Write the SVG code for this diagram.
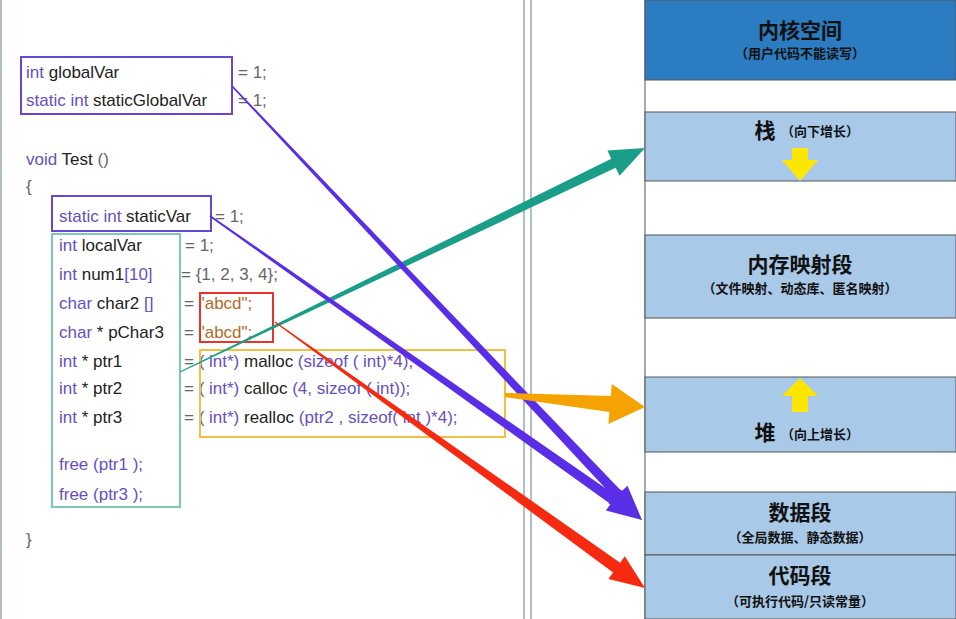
<svg xmlns="http://www.w3.org/2000/svg" width="956" height="619" viewBox="0 0 956 619">
<style>
.c{font-family:"Liberation Sans","Noto Sans CJK SC",sans-serif;font-size:17px;fill:#222}
.k{fill:#6650c0}.g{fill:#666}.s{fill:#b06a2a}
.bx{fill:none;stroke-width:2}
.band{fill:#a9c9e8;stroke:#555;stroke-width:1}
.wh{fill:#fff}
.t1{font-family:"Noto Sans CJK SC",sans-serif;font-weight:bold;font-size:21px;fill:#111;text-anchor:middle}
.t2{font-family:"Noto Sans CJK SC",sans-serif;font-weight:bold;font-size:13px;fill:#111;text-anchor:middle}
</style>
<rect width="956" height="619" fill="#fff"/>
<g id="panel-left">
<rect x="1" y="-2" width="523" height="622" fill="none" stroke="#9aa" stroke-width="1.5"/>
<line x1="531" y1="0" x2="531" y2="619" stroke="#9aa" stroke-width="1.5"/>
</g>
<g id="code" class="c">
<text x="26" y="78"><tspan class="k">int</tspan> globalVar<tspan x="238" class="g">= 1;</tspan></text>
<text x="26" y="106"><tspan class="k">static int</tspan> staticGlobalVar<tspan x="238" class="g">= 1;</tspan></text>
<text x="26" y="165"><tspan class="k">void</tspan> Test <tspan class="g">()</tspan></text>
<text x="26" y="192" class="g">{</text>
<text x="59" y="222"><tspan class="k">static int</tspan> staticVar<tspan x="215" class="g">= 1;</tspan></text>
<text x="59" y="251"><tspan class="k">int</tspan> localVar<tspan x="185" class="g">= 1;</tspan></text>
<text x="59" y="280"><tspan class="k">int</tspan> num1<tspan class="k">[10]</tspan><tspan x="181" class="g">= {1, 2, 3, 4};</tspan></text>
<text x="59" y="309"><tspan class="k">char</tspan> char2 <tspan class="k">[]</tspan><tspan x="184" class="g">= </tspan><tspan class="s">"abcd";</tspan></text>
<text x="59" y="338"><tspan class="k">char</tspan> * pChar3 <tspan x="184" class="g">= </tspan><tspan class="s">"abcd";</tspan></text>
<text x="59" y="367"><tspan class="k">int</tspan> * ptr1<tspan x="184" class="g">= </tspan><tspan class="k">( int*)</tspan> malloc <tspan class="k">(sizeof ( int)*4);</tspan></text>
<text x="59" y="394"><tspan class="k">int</tspan> * ptr2<tspan x="184" class="g">= </tspan><tspan class="k">( int*)</tspan> calloc <tspan class="k">(4, sizeof ( int));</tspan></text>
<text x="59" y="423"><tspan class="k">int</tspan> * ptr3<tspan x="184" class="g">= </tspan><tspan class="k">( int*)</tspan> realloc <tspan class="k">(ptr2 , sizeof( int )*4);</tspan></text>
<text x="59" y="470" class="k">free (ptr1 );</text>
<text x="59" y="500" class="k">free (ptr3 );</text>
<text x="26" y="545" class="g">}</text>
</g>
<g id="boxes">
<rect class="bx" x="21" y="57" width="211" height="57" stroke="#6a45d8"/>
<rect class="bx" x="52" y="196" width="159" height="35" stroke="#6a45d8"/>
<rect class="bx" x="52" y="234" width="128" height="273" stroke="#7cc9b4"/>
<rect class="bx" x="200" y="293" width="73" height="49" stroke="#e8322a"/>
<rect class="bx" x="200" y="350" width="305" height="87" stroke="#f2c040"/>
</g>
<g id="memory">
<rect x="645" y="-1" width="312" height="621" fill="#fff" stroke="#555"/>
<g id="kernel"><rect x="645" y="0" width="311" height="80" fill="#2b7cc0" stroke="#555"/>
<text class="t1" x="800" y="38">内核空间</text><text class="t2" x="800" y="58">（用户代码不能读写）</text></g>
<g id="stack"><rect class="band" x="645" y="112" width="311" height="69"/>
<text class="t1" x="765" y="138">栈</text><text class="t2" x="820" y="136">（向下增长）</text>
<polygon points="792,148 808,148 808,160 818,160 800,181 782,160 792,160" fill="#ffe600"/></g>
<g id="mmap"><rect class="band" x="645" y="235" width="311" height="83"/>
<text class="t1" x="800" y="272">内存映射段</text><text class="t2" x="800" y="293">（文件映射、动态库、匿名映射）</text></g>
<g id="heap"><rect class="band" x="645" y="377" width="311" height="75"/>
<polygon points="800,378 818,396 808,396 808,412 792,412 792,396 782,396" fill="#ffe600"/>
<text class="t1" x="765" y="440">堆</text><text class="t2" x="820" y="439">（向上增长）</text></g>
<g id="data"><rect class="band" x="645" y="492" width="311" height="63" fill="#c3dbef"/>
<text class="t1" x="800" y="520">数据段</text><text class="t2" x="800" y="542">（全局数据、静态数据）</text></g>
<g id="code-seg"><rect class="band" x="645" y="555" width="311" height="64" fill="#c3dbef"/>
<text class="t1" x="800" y="583">代码段</text><text class="t2" x="800" y="606">（可执行代码/只读常量）</text></g>
</g>
<g id="connectors">
<polygon fill="#1a9e8a" points="180.2,372.5 615.7,167.7 619.6,175.8 645,148 607.4,150.6 611.3,158.7 179.8,371.5"/>
<polygon fill="#5a2ee6" points="231.4,86.5 614.4,498 608.5,503.5 642,520 627.5,485.7 621.6,491.2 232.6,85.5"/>
<polygon fill="#5a2ee6" points="209.5,216.7 610.5,503.9 605.9,510.4 642,520 620.9,489.2 616.3,495.7 210.5,215.3"/>
<polygon fill="#f5a300" points="504.8,397 609.4,412 608.4,423.9 645,407 611.8,384.1 610.8,396 505.2,393"/>
<polygon fill="#f52a10" points="274.7,322.4 613.1,572.5 608.4,579 645,588 624.8,556.2 620.1,562.7 275.3,321.6"/>
</g>
</svg>
